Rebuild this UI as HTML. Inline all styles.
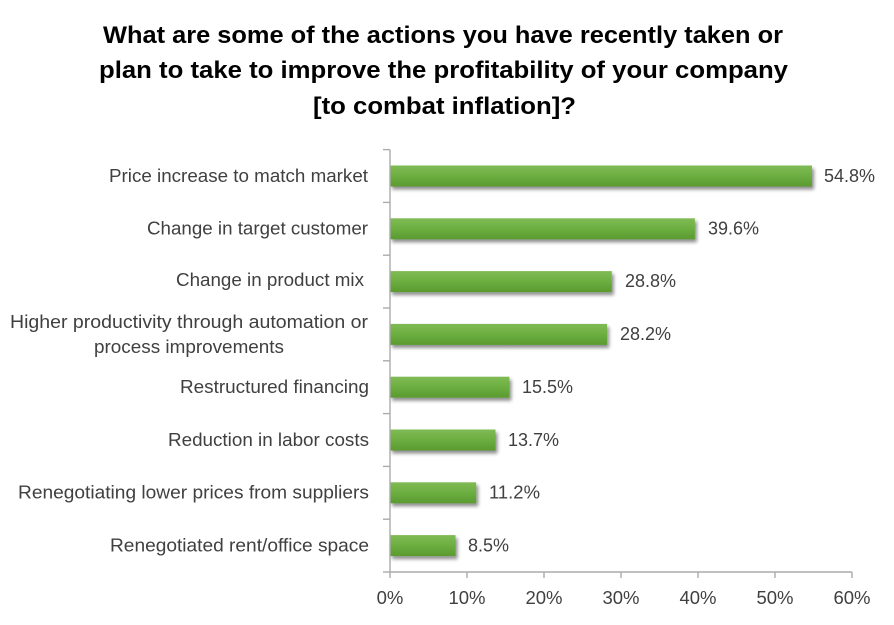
<!DOCTYPE html>
<html>
<head>
<meta charset="utf-8">
<style>
  html, body { margin: 0; padding: 0; background: #ffffff; }
  svg { display: block; }
  .lbl { font-family: "Liberation Sans", sans-serif; font-size: 18.5px; fill: #404040; }
  .ttl { font-family: "Liberation Sans", sans-serif; font-size: 24px; font-weight: bold; fill: #000; }
</style>
</head>
<body>
<svg width="894" height="625" viewBox="0 0 894 625" xmlns="http://www.w3.org/2000/svg">
  <defs>
    <linearGradient id="g" x1="0" y1="0" x2="0" y2="1">
      <stop offset="0" stop-color="#80bb55"/>
      <stop offset="0.5" stop-color="#6cae40"/>
      <stop offset="1" stop-color="#5a9a30"/>
    </linearGradient>
    <filter id="sh" x="-5%" y="-30%" width="115%" height="180%">
      <feGaussianBlur in="SourceAlpha" stdDeviation="1.8"/>
      <feOffset dx="2" dy="3" result="b"/>
      <feComponentTransfer><feFuncA type="linear" slope="0.45"/></feComponentTransfer>
      <feMerge><feMergeNode/><feMergeNode in="SourceGraphic"/></feMerge>
    </filter>
  </defs>

  <!-- Title -->
  <text class="ttl" x="103" y="43" textLength="680" lengthAdjust="spacingAndGlyphs">What are some of the actions you have recently taken or</text>
  <text class="ttl" x="99" y="78" textLength="689" lengthAdjust="spacingAndGlyphs">plan to take to improve the profitability of your company</text>
  <text class="ttl" x="313" y="114" textLength="263" lengthAdjust="spacingAndGlyphs">[to combat inflation]?</text>

  <!-- Bars -->
  <g filter="url(#sh)" fill="url(#g)">
    <rect x="390" y="165.5" width="422" height="21"/>
    <rect x="390" y="218.3" width="304.9" height="21"/>
    <rect x="390" y="271.1" width="221.8" height="21"/>
    <rect x="390" y="323.9" width="217.1" height="21"/>
    <rect x="390" y="376.7" width="119.4" height="21"/>
    <rect x="390" y="429.5" width="105.5" height="21"/>
    <rect x="390" y="482.3" width="86.2" height="21"/>
    <rect x="390" y="535.1" width="65.5" height="21"/>
  </g>

  <!-- Axes -->
  <g stroke="#ababab" stroke-width="1.4" fill="none">
    <line x1="390" y1="149.6" x2="390" y2="572"/>
    <line x1="390" y1="572" x2="852" y2="572"/>
    <line x1="383" y1="149.6" x2="390" y2="149.6"/>
    <line x1="383" y1="202.4" x2="390" y2="202.4"/>
    <line x1="383" y1="255.2" x2="390" y2="255.2"/>
    <line x1="383" y1="308" x2="390" y2="308"/>
    <line x1="383" y1="360.8" x2="390" y2="360.8"/>
    <line x1="383" y1="413.6" x2="390" y2="413.6"/>
    <line x1="383" y1="466.4" x2="390" y2="466.4"/>
    <line x1="383" y1="519.2" x2="390" y2="519.2"/>
    <line x1="383" y1="572" x2="390" y2="572"/>
    <line x1="390" y1="572" x2="390" y2="578"/>
    <line x1="467" y1="572" x2="467" y2="578"/>
    <line x1="544" y1="572" x2="544" y2="578"/>
    <line x1="621" y1="572" x2="621" y2="578"/>
    <line x1="698" y1="572" x2="698" y2="578"/>
    <line x1="775" y1="572" x2="775" y2="578"/>
    <line x1="852" y1="572" x2="852" y2="578"/>
  </g>

  <!-- Category labels -->
  <text class="lbl" x="109" y="182" textLength="259" lengthAdjust="spacingAndGlyphs">Price increase to match market</text>
  <text class="lbl" x="147" y="234.5" textLength="221" lengthAdjust="spacingAndGlyphs">Change in target customer</text>
  <text class="lbl" x="176" y="286" textLength="188" lengthAdjust="spacingAndGlyphs">Change in product mix</text>
  <text class="lbl" x="10" y="328" textLength="358" lengthAdjust="spacingAndGlyphs">Higher productivity through automation or</text>
  <text class="lbl" x="94" y="353" textLength="190" lengthAdjust="spacingAndGlyphs">process improvements</text>
  <text class="lbl" x="180" y="393" textLength="189" lengthAdjust="spacingAndGlyphs">Restructured financing</text>
  <text class="lbl" x="168" y="446" textLength="201" lengthAdjust="spacingAndGlyphs">Reduction in labor costs</text>
  <text class="lbl" x="18" y="498.5" textLength="351" lengthAdjust="spacingAndGlyphs">Renegotiating lower prices from suppliers</text>
  <text class="lbl" x="110" y="551.5" textLength="259" lengthAdjust="spacingAndGlyphs">Renegotiated rent/office space</text>

  <!-- Value labels -->
  <text class="lbl" x="824" y="182" textLength="51" lengthAdjust="spacingAndGlyphs">54.8%</text>
  <text class="lbl" x="708" y="234.5" textLength="51" lengthAdjust="spacingAndGlyphs">39.6%</text>
  <text class="lbl" x="625" y="287" textLength="51" lengthAdjust="spacingAndGlyphs">28.8%</text>
  <text class="lbl" x="620" y="340" textLength="51" lengthAdjust="spacingAndGlyphs">28.2%</text>
  <text class="lbl" x="522" y="393" textLength="51" lengthAdjust="spacingAndGlyphs">15.5%</text>
  <text class="lbl" x="508" y="446" textLength="51" lengthAdjust="spacingAndGlyphs">13.7%</text>
  <text class="lbl" x="489" y="498.5" textLength="51" lengthAdjust="spacingAndGlyphs">11.2%</text>
  <text class="lbl" x="468" y="551.5" textLength="41" lengthAdjust="spacingAndGlyphs">8.5%</text>

  <!-- X tick labels -->
  <g class="lbl" text-anchor="middle">
    <text x="390" y="604">0%</text>
    <text x="467" y="604">10%</text>
    <text x="544" y="604">20%</text>
    <text x="621" y="604">30%</text>
    <text x="698" y="604">40%</text>
    <text x="775" y="604">50%</text>
    <text x="852" y="604">60%</text>
  </g>
</svg>
</body>
</html>
